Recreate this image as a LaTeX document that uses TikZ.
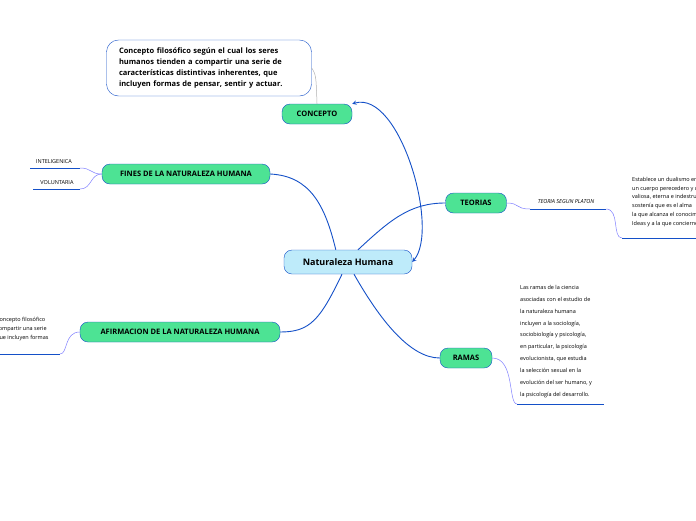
\documentclass[tikz,border=0pt]{standalone}
\usepackage{fontspec}
\setmainfont{Open Sans}
\definecolor{tg}{RGB}{77,227,148}
\definecolor{cb}{RGB}{190,235,250}
\definecolor{bl}{RGB}{20,80,200}
\begin{document}
\begin{tikzpicture}[x=1pt,y=-1pt,
  topic/.style={draw=bl,fill=tg,rounded corners=8pt,minimum height=20pt,font=\fontsize{7.5}{9}\selectfont\bfseries,inner xsep=8pt},
  leaf/.style={font=\fontsize{5.5}{8.8}\selectfont,align=left,inner sep=1pt},
  con/.style={draw=bl,line width=0.9pt},
  uline/.style={draw=bl,line width=1pt},
  thin/.style={draw=blue!50,line width=0.5pt}]
\useasboundingbox (0,0) rectangle (696,520);
\clip (0,0) rectangle (696,520);
\fill[white] (0,0) rectangle (696,520);
\node[draw=bl,fill=cb,rounded corners=8pt,minimum width=128pt,minimum height=24pt,font=\fontsize{9}{11}\selectfont\bfseries] (c) at (348,262) {Naturaleza Humana};
\node[topic,minimum width=70pt] (con) at (317,114) {CONCEPTO};
\node[draw=bl,rounded corners=12pt,minimum width=205pt,minimum height=56pt,align=left,text width=180pt,inner xsep=6pt,font=\fontsize{7.5}{11}\selectfont\bfseries] (cb) at (209,68) {Concepto filosófico según el cual los seres\\humanos tienden a compartir una serie de\\características distintivas inherentes, que\\incluyen formas de pensar, sentir y actuar.};
\node[topic,minimum width=168pt] (fin) at (186,174) {FINES DE LA NATURALEZA HUMANA};
\node[topic,minimum width=61pt] (teo) at (476,203) {TEORIAS};
\node[topic,minimum width=200pt] (afi) at (180,332) {AFIRMACION DE LA NATURALEZA HUMANA};
\node[topic,minimum width=52pt] (ram) at (466,358) {RAMAS};
% connectors
\draw[con] (c.north west) ++(52,0) coordinate (a1) .. controls (325,205) and (310,176) .. (fin.east);
\draw[con] (c.north) ++(10,0) coordinate (a2) .. controls (390,220) and (410,203) .. (teo.west);
\draw[con] (c.south) ++(-6,0) coordinate (a3) .. controls (320,320) and (310,332) .. (afi.east);
\draw[con] (c.south) ++(6,0) coordinate (a4) .. controls (380,320) and (410,358) .. (ram.west);
\draw[con,<->,>=stealth] (c.east) .. controls (440,230) and (400,90) .. (con.north east);
\draw[draw=gray!60,line width=0.5pt] (cb.east) .. controls (316,75) .. (con.north);
% fines leaves
\node[leaf] (in) at (54,162) {INTELIGENICA};
\node[leaf] (vo) at (57,183) {VOLUNTARIA};
\coordinate (inl) at (30,168); \coordinate (inr) at (80,168);
\coordinate (vol) at (33,189); \coordinate (vor) at (80,189);
\draw[uline] (inl) -- (inr); \draw[uline] (vol) -- (vor);
\draw[thin] (inr) .. controls (92,168) and (90,174) .. (fin.west);
\draw[thin] (vor) .. controls (92,189) and (90,174) .. (fin.west);
% teorias
\node[leaf,font=\fontsize{5.5}{8}\selectfont\itshape] (pl) at (566,202) {TEORIA SEGUN PLATON};
\coordinate (pll) at (530,209); \coordinate (plr) at (606,209);
\draw[uline] (pll) -- (plr);
\draw[thin] (teo.east) .. controls (520,203) and (515,209) .. (pll);
\node[leaf,anchor=north west] (pt) at (631,176) {Establece un dualismo entre\\un cuerpo perecedero y un alma\\valiosa, eterna e indestructible;\\sostenía que es el alma\\la que alcanza el conocimiento de las\\Ideas y a la que concierne};
\coordinate (ptl) at (622,238); \coordinate (ptr) at (696,238);
\draw[uline] (ptl) -- (ptr);
\draw[thin] (plr) .. controls (620,209) and (612,238) .. (ptl);
% afirmacion
\node[leaf,anchor=north west] (at) at (-5,316) {Concepto filosófico\\compartir una serie\\que incluyen formas};
\coordinate (atl) at (0,354); \coordinate (atr) at (60,354);
\draw[uline] (atl) -- (atr);
\draw[thin] (atr) .. controls (68,354) and (64,332) .. (afi.west);
% ramas
\node[leaf,anchor=north west,font=\fontsize{5.5}{11.9}\selectfont] (rt) at (519,284) {Las ramas de la ciencia\\asociadas con el estudio de\\la naturaleza humana\\incluyen a la sociología,\\sociobiología y psicología,\\en particular, la psicología\\evolucionista, que estudia\\la selección sexual en la\\evolución del ser humano, y\\la psicología del desarrollo.};
\coordinate (rtl) at (517,404); \coordinate (rtr) at (604,404);
\draw[uline] (rtl) -- (rtr);
\draw[thin] (ram.east) .. controls (515,358) and (508,404) .. (rtl);
\end{tikzpicture}
\end{document}
